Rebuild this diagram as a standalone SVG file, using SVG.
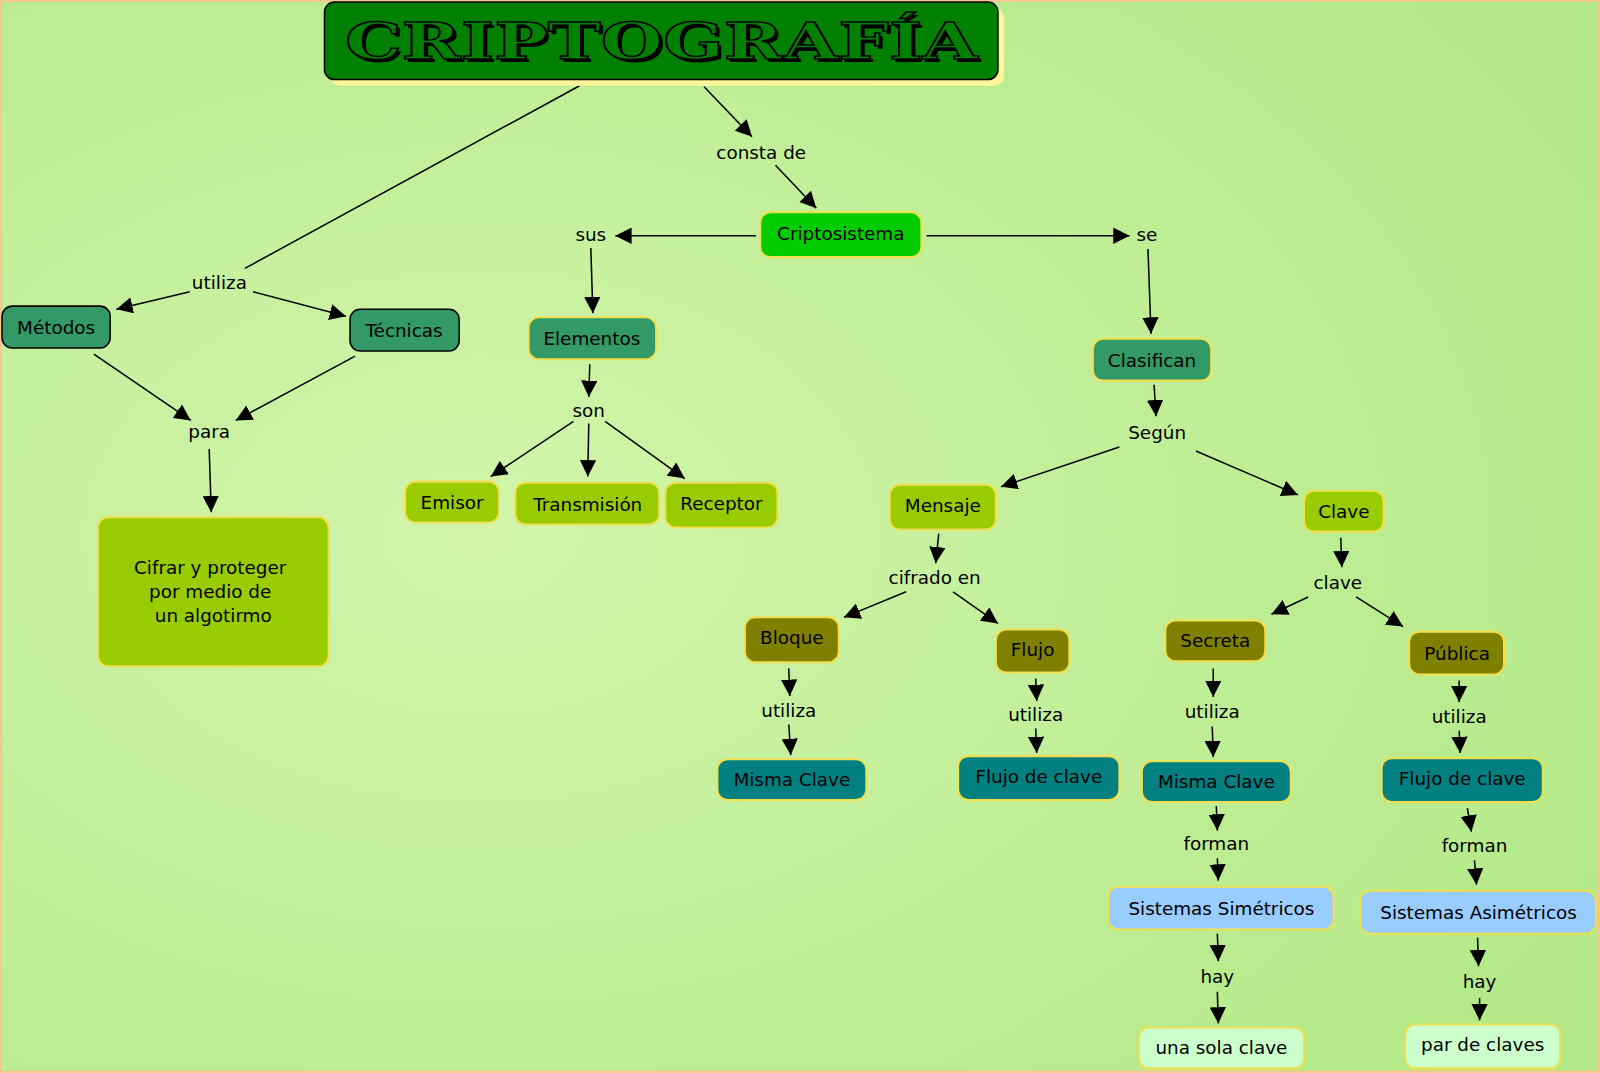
<svg xmlns="http://www.w3.org/2000/svg" width="1600" height="1073" viewBox="0 0 1600 1073">
<defs>
<radialGradient id="bg" cx="0.3" cy="0.5" r="0.8">
<stop offset="0" stop-color="#d2f5ab"/><stop offset="1" stop-color="#b2e986"/>
</radialGradient>
<marker id="ah" viewBox="0 0 10 10" refX="10" refY="5" markerWidth="16" markerHeight="16" markerUnits="userSpaceOnUse" orient="auto">
<path d="M0,0 L10,5 L0,10 z" fill="#000"/>
</marker>
<style>
.n{stroke:#f0e050;stroke-width:2}
.k{stroke:#000;stroke-width:1.5}
.t{font-family:"DejaVu Sans",Verdana,sans-serif;font-size:18px;fill:#000;text-anchor:middle;dominant-baseline:central}
.c line{stroke:#000;stroke-width:1.5}
.c line.a{marker-end:url(#ah)}
</style>
</defs>
<rect width="1600" height="1073" fill="#f5c890"/>
<g transform="scale(1.0204)">
<rect x="2" y="2" width="1564" height="1047" fill="url(#bg)"/>
<g class="c">
<line x1="568" y1="84" x2="240" y2="263"/>
<line class="a" x1="690" y1="85" x2="737" y2="134"/>
<line class="a" x1="760" y1="162" x2="800" y2="204"/>
<line class="a" x1="741" y1="231" x2="603" y2="231"/>
<line class="a" x1="908" y1="231" x2="1107" y2="231"/>
<line class="a" x1="186" y1="286" x2="114" y2="303"/>
<line class="a" x1="248" y1="286" x2="339" y2="310"/>
<line class="a" x1="92" y1="347" x2="187" y2="412"/>
<line class="a" x1="348" y1="349" x2="231" y2="412"/>
<line class="a" x1="205" y1="440" x2="207" y2="502"/>
<line class="a" x1="579" y1="243" x2="581" y2="307"/>
<line class="a" x1="578" y1="357" x2="577" y2="389"/>
<line class="a" x1="562" y1="413" x2="481" y2="467"/>
<line class="a" x1="577" y1="415" x2="576" y2="467"/>
<line class="a" x1="593" y1="413" x2="671" y2="469"/>
<line class="a" x1="1125" y1="244" x2="1128" y2="327"/>
<line class="a" x1="1131" y1="377" x2="1133" y2="408"/>
<line class="a" x1="1097" y1="438" x2="981" y2="477"/>
<line class="a" x1="1172" y1="442" x2="1272" y2="485"/>
<line class="a" x1="920" y1="523" x2="917" y2="552"/>
<line class="a" x1="888" y1="580" x2="827" y2="605"/>
<line class="a" x1="934" y1="580" x2="978" y2="611"/>
<line class="a" x1="1314" y1="527" x2="1315" y2="556"/>
<line class="a" x1="1282" y1="585" x2="1246" y2="602"/>
<line class="a" x1="1329" y1="585" x2="1375" y2="614"/>
<line class="a" x1="773" y1="655" x2="774" y2="682"/>
<line class="a" x1="773" y1="710" x2="775" y2="740"/>
<line class="a" x1="1015" y1="665" x2="1016" y2="687"/>
<line class="a" x1="1015" y1="714" x2="1016" y2="738"/>
<line class="a" x1="1189" y1="655" x2="1189" y2="683"/>
<line class="a" x1="1188" y1="712" x2="1189" y2="742"/>
<line class="a" x1="1430" y1="667" x2="1430" y2="688"/>
<line class="a" x1="1430" y1="716" x2="1431" y2="738"/>
<line class="a" x1="1192" y1="790" x2="1193" y2="814"/>
<line class="a" x1="1193" y1="841" x2="1194" y2="863"/>
<line class="a" x1="1438" y1="792" x2="1442" y2="815"/>
<line class="a" x1="1445" y1="843" x2="1447" y2="867"/>
<line class="a" x1="1193" y1="915" x2="1194" y2="942"/>
<line class="a" x1="1193" y1="972" x2="1194" y2="1003"/>
<line class="a" x1="1448" y1="919" x2="1449" y2="947"/>
<line class="a" x1="1450" y1="978" x2="1450" y2="1000"/>
</g>
<g id="title">
<rect x="324" y="8" width="660" height="76" rx="10" fill="#fff59a"/>
<rect x="318" y="2" width="660" height="76" rx="10" fill="#008000" stroke="#000" stroke-width="1.5"/>
<text x="651" y="43" font-family="'DejaVu Serif',serif" font-weight="bold" font-size="50" text-anchor="middle" dominant-baseline="central" fill="#000" textLength="620" lengthAdjust="spacingAndGlyphs">CRIPTOGRAFÍA</text>
<text x="648" y="40" font-family="'DejaVu Serif',serif" font-weight="bold" font-size="50" text-anchor="middle" dominant-baseline="central" fill="#008000" stroke="#000" stroke-width="1.5" textLength="620" lengthAdjust="spacingAndGlyphs">CRIPTOGRAFÍA</text>
</g>
<g id="criptosistema"><rect class="n" x="745" y="208" width="158" height="44" rx="10" fill="#00cc00"/><text class="t" x="824" y="229">Criptosistema</text></g>
<g id="metodos"><rect class="k" x="2" y="300" width="106" height="41" rx="10" fill="#339966"/><text class="t" x="55" y="321">Métodos</text></g>
<g id="tecnicas"><rect class="k" x="343" y="303" width="107" height="41" rx="10" fill="#339966"/><text class="t" x="396" y="324">Técnicas</text></g>
<g id="elementos"><rect class="n" x="518" y="311" width="125" height="41" rx="10" fill="#339966"/><text class="t" x="580" y="332">Elementos</text></g>
<g id="clasifican"><rect class="n" x="1071" y="332" width="116" height="41" rx="10" fill="#339966"/><text class="t" x="1129" y="353">Clasifican</text></g>
<g id="emisor"><rect class="n" x="397" y="472" width="92" height="40" rx="10" fill="#99cc00"/><text class="t" x="443" y="492">Emisor</text></g>
<g id="transmision"><rect class="n" x="505" y="473" width="141" height="41" rx="10" fill="#99cc00"/><text class="t" x="576" y="494">Transmisión</text></g>
<g id="receptor"><rect class="n" x="652" y="473" width="110" height="44" rx="10" fill="#99cc00"/><text class="t" x="707" y="493">Receptor</text></g>
<g id="cifrar"><rect class="n" x="96" y="507" width="226" height="146" rx="10" fill="#99cc00"/>
<text class="t" x="206" y="556">Cifrar y proteger</text><text class="t" x="206" y="580">por medio de</text><text class="t" x="209" y="603">un algotirmo</text></g>
<g id="mensaje"><rect class="n" x="872" y="475" width="104" height="44" rx="10" fill="#99cc00"/><text class="t" x="924" y="495">Mensaje</text></g>
<g id="clave"><rect class="n" x="1278" y="481" width="78" height="40" rx="10" fill="#99cc00"/><text class="t" x="1317" y="501">Clave</text></g>
<g id="bloque"><rect class="n" x="730" y="605" width="92" height="44" rx="10" fill="#808000"/><text class="t" x="776" y="625">Bloque</text></g>
<g id="flujo"><rect class="n" x="976" y="617" width="72" height="42" rx="10" fill="#808000"/><text class="t" x="1012" y="637">Flujo</text></g>
<g id="secreta"><rect class="n" x="1142" y="608" width="98" height="40" rx="10" fill="#808000"/><text class="t" x="1191" y="628">Secreta</text></g>
<g id="publica"><rect class="n" x="1381" y="619" width="93" height="42" rx="10" fill="#808000"/><text class="t" x="1428" y="640">Pública</text></g>
<g id="misma1"><rect class="n" x="703" y="744" width="146" height="40" rx="10" fill="#008080"/><text class="t" x="776" y="764">Misma Clave</text></g>
<g id="flujoclave1"><rect class="n" x="939" y="741" width="158" height="43" rx="10" fill="#008080"/><text class="t" x="1018" y="761">Flujo de clave</text></g>
<g id="misma2"><rect class="n" x="1119" y="746" width="146" height="40" rx="10" fill="#008080"/><text class="t" x="1192" y="766">Misma Clave</text></g>
<g id="flujoclave2"><rect class="n" x="1354" y="743" width="158" height="43" rx="10" fill="#008080"/><text class="t" x="1433" y="763">Flujo de clave</text></g>
<g id="simetricos"><rect class="n" x="1086" y="869" width="221" height="42" rx="10" fill="#99ccff"/><text class="t" x="1197" y="890">Sistemas Simétricos</text></g>
<g id="asimetricos"><rect class="n" x="1333" y="873" width="231" height="42" rx="10" fill="#99ccff"/><text class="t" x="1449" y="894">Sistemas Asimétricos</text></g>
<g id="sola"><rect class="n" x="1116" y="1007" width="162" height="40" rx="10" fill="#ccffcc"/><text class="t" x="1197" y="1027">una sola clave</text></g>
<g id="par"><rect class="n" x="1377" y="1004" width="152" height="43" rx="10" fill="#ccffcc"/><text class="t" x="1453" y="1024">par de claves</text></g>
<g id="labels">
<text class="t" x="746" y="149">consta de</text>
<text class="t" x="579" y="230">sus</text>
<text class="t" x="1124" y="230">se</text>
<text class="t" x="215" y="277">utiliza</text>
<text class="t" x="205" y="423">para</text>
<text class="t" x="577" y="402">son</text>
<text class="t" x="1134" y="424">Según</text>
<text class="t" x="916" y="566">cifrado en</text>
<text class="t" x="1311" y="571">clave</text>
<text class="t" x="773" y="696">utiliza</text>
<text class="t" x="1015" y="700">utiliza</text>
<text class="t" x="1188" y="697">utiliza</text>
<text class="t" x="1430" y="702">utiliza</text>
<text class="t" x="1192" y="827">forman</text>
<text class="t" x="1445" y="829">forman</text>
<text class="t" x="1193" y="957">hay</text>
<text class="t" x="1450" y="962">hay</text>
</g>
</g>
</svg>
